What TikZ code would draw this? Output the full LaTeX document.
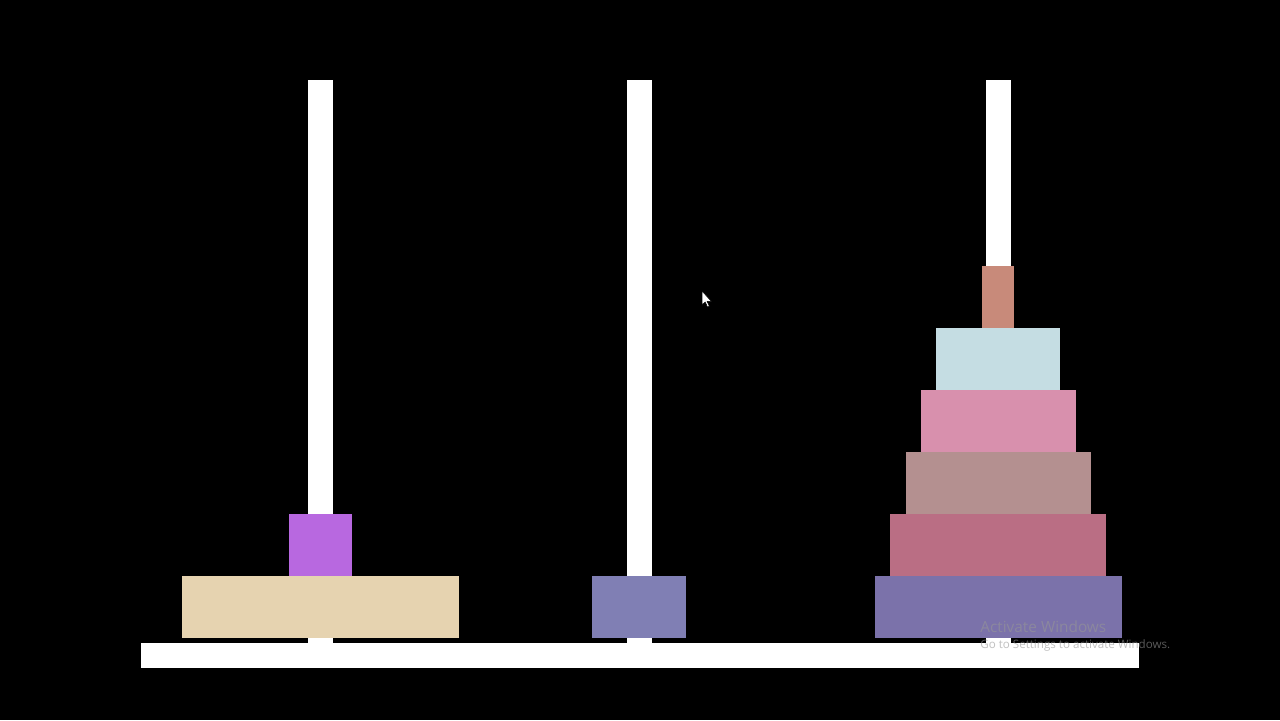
\documentclass[tikz,border=0pt]{standalone}
\usepackage{fontspec}
\setmainfont{Open Sans}
\definecolor{DiskBeige}{RGB}{230, 211, 176}
\definecolor{DiskViolet}{RGB}{184, 104, 224}
\definecolor{DiskSlate}{RGB}{128, 127, 180}
\definecolor{DiskSalmon}{RGB}{200, 138, 122}
\definecolor{DiskIce}{RGB}{197, 221, 227}
\definecolor{DiskPink}{RGB}{216, 144, 173}
\definecolor{DiskMauve}{RGB}{180, 144, 144}
\definecolor{DiskRose}{RGB}{186, 110, 132}
\definecolor{DiskIndigo}{RGB}{123, 114, 170}
\definecolor{WaterGray}{RGB}{150, 150, 150}
\tikzset{
  peg/.style={fill=white},
  disk/.style={fill=#1},
  watermark/.style={text=WaterGray, text opacity=0.6, anchor=west, inner sep=0pt},
}
\begin{document}
\begin{tikzpicture}[x=0.02cm, y=-0.02cm]
  \fill[black] (0,0) rectangle (1280,720);
  \useasboundingbox (0,0) rectangle (1280,720);

  % pegs
  \foreach \px in {320.5, 639, 998}
    \fill[peg] (\px-12.5,80) rectangle (\px+12.5,645);

  % left peg
  \fill[disk=DiskViolet] (289,514) rectangle (352,576);
  \fill[disk=DiskBeige]  (182,576) rectangle (459,638);

  % middle peg
  \fill[disk=DiskSlate]  (592,576) rectangle (686,638);

  % right peg
  \fill[disk=DiskSalmon] (982,266) rectangle (1014,328);
  \fill[disk=DiskIce]    (936,328) rectangle (1060,390);
  \fill[disk=DiskPink]   (920.5,390) rectangle (1075.5,452);
  \fill[disk=DiskMauve]  (905.5,452) rectangle (1090.5,514);
  \fill[disk=DiskRose]   (890,514) rectangle (1106,576);
  \fill[disk=DiskIndigo] (875,576) rectangle (1122,638);

  % base
  \fill[peg] (141,643) rectangle (1139,668);

  % mouse pointer
  \fill[white, draw=black, line width=0.3pt]
    (702,291) -- (702,305) -- (705.2,302) -- (707.5,307) -- (709.3,306.2)
    -- (707.1,301.3) -- (711.3,301.3) -- cycle;

  % watermark
  \node[watermark, font=\fontsize{8.75}{10}\selectfont] (act) at (980,627) {Activate Windows};
  \node[watermark, font=\fontsize{6.6}{8}\selectfont] (hint) at (980,645) {Go to Settings to activate Windows.};
\end{tikzpicture}
\end{document}
